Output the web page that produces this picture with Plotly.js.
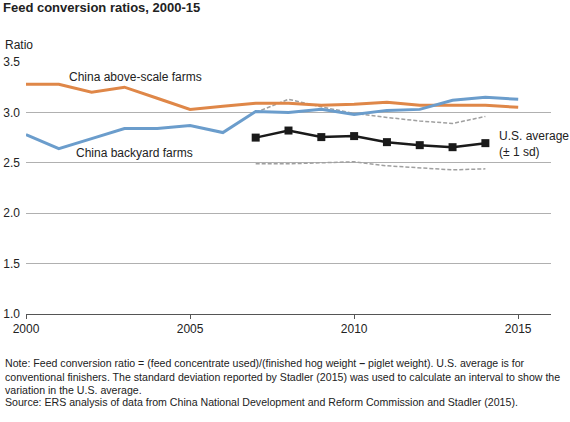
<!DOCTYPE html>
<html>
<head>
<meta charset="utf-8">
<script src="https://cdn.plot.ly/plotly-3.0.1.min.js"></script>
<style>
html,body{margin:0;padding:0;background:#fff;}
#chart{width:570px;height:422px;}
</style>
</head>
<body>
<div id="chart"></div>
<script>
var years = [2000,2001,2002,2003,2004,2005,2006,2007,2008,2009,2010,2011,2012,2013,2014,2015];
var aboveScale = [3.28,3.28,3.20,3.25,3.14,3.03,3.06,3.09,3.09,3.07,3.08,3.10,3.07,3.07,3.07,3.05];
var backyard = [2.78,2.64,2.74,2.84,2.84,2.87,2.80,3.01,3.00,3.03,2.98,3.02,3.03,3.12,3.15,3.13];
var usYears = [2007,2008,2009,2010,2011,2012,2013,2014];
var usAvg = [2.75,2.82,2.755,2.765,2.705,2.675,2.655,2.695];
var usUpper = [3.00,3.13,3.055,2.99,2.95,2.915,2.89,2.96];
var usLower = [2.49,2.49,2.50,2.51,2.47,2.45,2.43,2.44];
var yTicks = [1.0,1.5,2.0,2.5,3.0,3.5];
var xTicks = [2000,2005,2010,2015];
var noteLines = [
  'Note: Feed conversion ratio = (feed concentrate used)/(finished hog weight <b>–</b> piglet weight). U.S. average is for',
  'conventional finishers. The standard deviation reported by Stadler (2015) was used to calculate an interval to show the',
  'variation in the U.S. average.',
  'Source: ERS analysis of data from China National Development and Reform Commission and Stadler (2015).'
];

var FONT = '"Liberation Sans", Arial, Helvetica, sans-serif';

var traces = [
  {x: usYears, y: usUpper, mode:'lines', line:{color:'#a0a0a0', width:1.5, dash:'4px,2px'}},
  {x: usYears, y: usLower, mode:'lines', line:{color:'#a0a0a0', width:1.5, dash:'4px,2px'}},
  {x: years, y: aboveScale, mode:'lines', line:{color:'#df8748', width:3}},
  {x: years, y: backyard, mode:'lines', line:{color:'#6b9dcc', width:3}},
  {x: usYears, y: usAvg, mode:'lines+markers', line:{color:'#1a1a1a', width:2.5},
   marker:{symbol:'square', size:8, color:'#1a1a1a'}}
];

var annotations = [
  {xref:'paper', yref:'paper', x:(3-26)/525, y:(314-45)/252, xanchor:'left', yanchor:'middle',
   text:'Ratio', showarrow:false, font:{family:FONT, size:12, color:'#222'}},
  {xref:'x', yref:'y', x:2003.35, y:3.355, xanchor:'center', yanchor:'middle',
   text:'China above-scale farms', showarrow:false, font:{family:FONT, size:12, color:'#222'}},
  {xref:'x', yref:'y', x:2003.31, y:2.60, xanchor:'center', yanchor:'middle',
   text:'China backyard farms', showarrow:false, font:{family:FONT, size:12, color:'#222'}},
  {xref:'x', yref:'y', x:2014.35, y:2.69, xanchor:'left', yanchor:'middle', align:'left',
   text:'U.S. average<br>(± 1 sd)', showarrow:false, font:{family:FONT, size:12, color:'#222'}}
];
var noteY = [363.3, 376.5, 389.5, 402.3];
noteLines.forEach(function(t, i){
  annotations.push({xref:'paper', yref:'paper', x:(3-26)/525, y:(314-noteY[i])/252,
    xanchor:'left', yanchor:'middle', align:'left', text:t, showarrow:false,
    font:{family:FONT, size:10.6, color:'#222'}});
});

var layout = {
  width:570, height:422,
  margin:{l:26, r:19, t:62, b:108, pad:0},
  paper_bgcolor:'#fff', plot_bgcolor:'#fff',
  showlegend:false,
  hovermode:false,
  font:{family:FONT, size:12, color:'#222'},
  title:{text:'<b>Feed conversion ratios, 2000-15</b>', font:{family:FONT, size:13, color:'#222'},
         xref:'container', x:3/570, xanchor:'left', yref:'container', y:1-7/422, yanchor:'middle'},
  xaxis:{range:[2000,2016], tickvals:xTicks, ticktext:xTicks.map(String),
         showgrid:false, zeroline:false, showline:true, linecolor:'#555', linewidth:1,
         ticks:'outside', ticklen:4, tickcolor:'#555', tickwidth:1,
         tickfont:{family:FONT, size:12, color:'#222'}},
  yaxis:{range:[1,3.5], tickvals:yTicks, ticktext:yTicks.map(function(v){return v.toFixed(1);}),
         showgrid:true, gridcolor:'#b0b0b0', gridwidth:1, zeroline:false, showline:false,
         ticks:'', ticklabelstandoff:5,
         tickfont:{family:FONT, size:12, color:'#222'}},
  annotations: annotations
};

Plotly.newPlot('chart', traces, layout, {displayModeBar:false, staticPlot:true});
</script>
</body>
</html>
